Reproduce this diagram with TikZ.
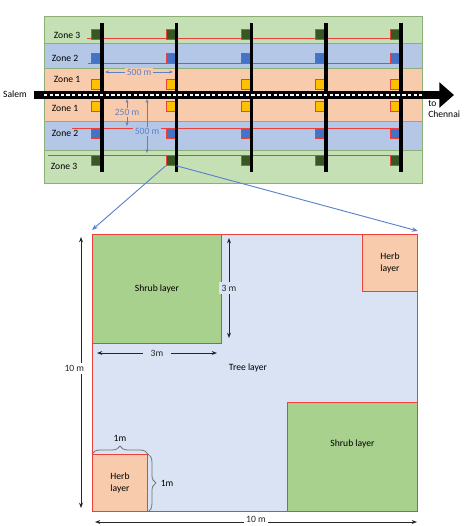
\documentclass[tikz,border=0pt]{standalone}
\usepackage{fontspec}
\setmainfont{Carlito}
\usepackage{tikz}
\definecolor{zonegreen}{RGB}{197, 224, 180}
\definecolor{zoneblue}{RGB}{180, 199, 231}
\definecolor{zoneorange}{RGB}{248, 203, 173}
\definecolor{treeblue}{RGB}{218, 227, 243}
\definecolor{shrubgreen}{RGB}{169, 209, 142}
\definecolor{darkleaf}{RGB}{56, 87, 35}
\definecolor{poleblue}{RGB}{68, 114, 196}
\definecolor{gold}{RGB}{255, 192, 0}
\definecolor{rowline}{RGB}{140, 175, 120}
\definecolor{redline}{RGB}{238, 64, 58}
\definecolor{dimblue}{RGB}{91, 130, 200}
\usetikzlibrary{arrows.meta, positioning, calc, decorations.pathreplacing}

\begin{document}
\begin{tikzpicture}[
    x=0.75pt, y=-0.75pt,
    font=\fontsize{7.2}{8.6}\selectfont,
    row/.style={fill=#1, draw=rowline, line width=0.6pt},
    sq/.style={draw=redline, fill=#1, line width=0.6pt, minimum size=7.5pt,
               inner sep=0pt, anchor=north east},
    pole/.style={line width=2.6pt, black},
    redrow/.style={draw=redline, line width=0.6pt},
    dimb/.style={dimblue, line width=0.6pt, {Stealth[length=3pt]}-{Stealth[length=3pt]}},
    dimk/.style={black!85, line width=0.7pt, {Stealth[length=4pt]}-{Stealth[length=4pt]}},
    layer/.style={draw=redline, fill=#1, line width=0.7pt, anchor=north west,
                  inner sep=0pt, align=left},
    link/.style={dimblue, line width=0.7pt, -{Stealth[length=4.5pt]}},
    curly/.style={draw=black!55, line width=0.6pt, decorate,
                  decoration={brace, amplitude=6pt}}
]
    \useasboundingbox (0,0) rectangle (474,526);

    % zone rows
    \draw[row=zonegreen] (44,16) rectangle (422,43);
    \draw[row=zoneblue] (44,43) rectangle (422,68);
    \draw[row=zoneorange] (44,68) rectangle (422,121);
    \draw[row=zoneblue] (44,121) rectangle (422,150);
    \draw[row=zonegreen] (44,150) rectangle (422,183);

    % red lines along the rows
    \draw[redrow] (87,38) -- (401,38);
    \draw[redrow] (88,63) -- (401,63);
    \draw[redrow] (72,128) -- (401,128);
    \draw[redrow] (48,155) -- (401,155);

    \node (z3a) at (67,35) {Zone 3};
    \node (z2a) at (65,58) {Zone 2};
    \node (z1a) at (67,79) {Zone 1};
    \node (z1b) at (65,108) {Zone 1};
    \node (z2b) at (65,133) {Zone 2};
    \node (z3b) at (64,166) {Zone 3};

    % plots and poles
    \foreach \x [count=\i] in {102, 176.5, 251.5, 326, 401} {
        \foreach \y/\c/\n in {29/darkleaf/a, 53/poleblue/b, 79/gold/c,
                              101/gold/d, 128/poleblue/e, 155/darkleaf/f}
            \node[sq=\c] (\n\i) at (\x,\y) {};
        \draw[pole] (\x,23) -- (\x,172);
    }

    % road
    \coordinate (roadstart) at (34,95);
    \coordinate (roadend) at (454,95);
    \draw[line width=6.5pt, -{Triangle[length=11pt, width=18.5pt]}] (roadstart) -- (roadend);
    \draw[white, line width=0.9pt, dash pattern=on 2.6pt off 1.6pt] (44,95) -- (422,95);
    \node (salem) at (15,94) {Salem};
    \node[anchor=north west, align=left, inner sep=0pt] (chennai) at (428,100) {to\\Chennai};

    % spacing
    \coordinate (h1) at (105,72);
    \coordinate (h2) at (173,72);
    \draw[dimb] (h1) -- (h2) node[midway, fill=zoneorange, inner sep=1pt] {500 m};
    \coordinate (v1) at (127,99);
    \coordinate (v2) at (127,126);
    \draw[dimb] (v1) -- (v2) node[midway, fill=zoneorange, inner sep=1pt] {250 m};
    \coordinate (w1) at (147,99);
    \coordinate (w2) at (147,153);
    \draw[dimb] (w1) -- (w2) node[pos=0.6, fill=zoneblue, inner sep=1pt] {500 m};

    % one plot in detail
    \node[layer=treeblue, minimum width=243.75pt, minimum height=207.75pt] (plot) at (92,234) {};
    \node (tree) at (248,368) {Tree layer};
    \node[layer=shrubgreen, minimum width=96.75pt, minimum height=81.75pt, align=center] (shrub1) at (92,234) {Shrub layer};
    \node[layer=zoneorange, minimum width=41.25pt, minimum height=42.75pt] (herb1) at (362,234) {Herb\\layer};
    \node[layer=shrubgreen, minimum width=97.5pt, minimum height=81.75pt, align=center] (shrub2) at (287,402) {Shrub layer\\[12pt]};
    \node[layer=zoneorange, minimum width=41.25pt, minimum height=42.75pt] (herb2) at (92,454) {Herb\\layer};

    \draw[link] (f2.south west) -- ($(plot.north west)+(0,-4)$);
    \draw[link] (f2.south east) -- ($(plot.north east)+(0,-3)$);

    % dimensions
    \coordinate (s1) at (229,238);
    \coordinate (s2) at (229,338);
    \draw[dimk] (s1) -- (s2) node[midway, fill=treeblue, inner sep=2pt] {3 m};
    \coordinate (t1) at (97,353);
    \coordinate (t2) at (217,353);
    \draw[dimk] (t1) -- (t2) node[midway, fill=treeblue, inner xsep=6pt, inner ysep=1pt] {3m};
    \coordinate (l1) at (81,237);
    \coordinate (l2) at (81,508);
    \draw[dimk] (l1) -- (l2) node[midway, fill=white, xshift=-5pt, yshift=3pt, inner sep=2pt] {10 m};
    \coordinate (b1) at (95,522);
    \coordinate (b2) at (417,522);
    \draw[dimk] (b2) -- (b1) node[midway, fill=white, yshift=2pt, inner sep=2pt] {10 m};

    \draw[curly] (herb2.north west) -- (herb2.north east) node[midway, above=6pt] {1m};
    \draw[curly] (herb2.north east) -- (herb2.south east) node[midway, right=6pt] {1m};
\end{tikzpicture}
\end{document}
